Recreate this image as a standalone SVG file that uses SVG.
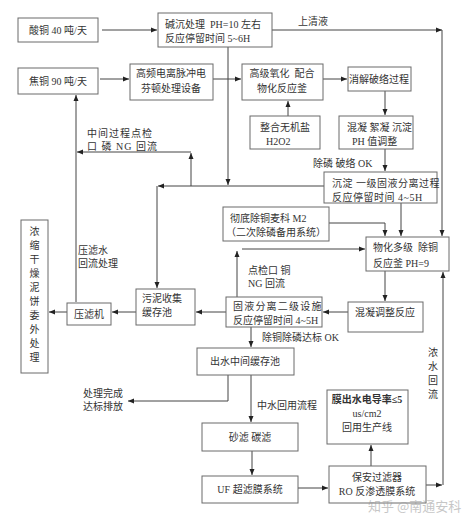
<svg xmlns="http://www.w3.org/2000/svg" width="474" height="514" viewBox="0 0 474 514">
<style>
.b{fill:#fff;stroke:#6a6a6a;stroke-width:1}
.t{font-family:"Liberation Serif","Noto Sans CJK SC",serif;font-size:10px;fill:#333}
.m{text-anchor:middle}
.c{stroke:#444;stroke-width:1;fill:none}
.w{font-family:"Noto Sans CJK SC",sans-serif;font-size:13px;fill:#999;opacity:0.55}
</style>
<defs>
<marker id="a" markerWidth="6" markerHeight="6" refX="6" refY="3" orient="auto" markerUnits="userSpaceOnUse"><path d="M0,0.5 L6,3 L0,5.5z" fill="#222"/></marker>
</defs>
<rect width="474" height="514" fill="#fff"/>
<g id="connectors">
<path class="c" d="M102,30 H157" marker-end="url(#a)"/>
<path class="c" d="M272,30 H442" marker-end="url(#a)"/>
<path class="c" d="M442,30 V236" marker-end="url(#a)"/>
<path class="c" d="M228,47 V185" marker-end="url(#a)"/>
<path class="c" d="M100,79 H129" marker-end="url(#a)"/>
<path class="c" d="M213,79 H241" marker-end="url(#a)"/>
<path class="c" d="M323,79 H347" marker-end="url(#a)"/>
<path class="c" d="M385,91 V115" marker-end="url(#a)"/>
<path class="c" d="M288,116 V101" marker-end="url(#a)"/>
<path class="c" d="M385,149 V171" marker-end="url(#a)"/>
<path class="c" d="M324,186 H158" marker-end="url(#a)"/>
<path class="c" d="M157,186 V288" marker-end="url(#a)"/>
<path class="c" d="M191,186 V153" marker-end="url(#a)"/>
<path class="c" d="M191,152 H77" marker-end="url(#a)"/>
<path class="c" d="M76,302 V95" marker-end="url(#a)"/>
<path class="c" d="M329,223 H385 V236" marker-end="url(#a)"/>
<path class="c" d="M401,203 V236" marker-end="url(#a)"/>
<path class="c" d="M242,249 H365" marker-end="url(#a)"/>
<path class="c" d="M237,297 V251" marker-end="url(#a)"/>
<path class="c" d="M385,271 V301" marker-end="url(#a)"/>
<path class="c" d="M348,312 H323" marker-end="url(#a)"/>
<path class="c" d="M226,312 H196" marker-end="url(#a)"/>
<path class="c" d="M136,312 H112" marker-end="url(#a)"/>
<path class="c" d="M67,312 H49" marker-end="url(#a)"/>
<path class="c" d="M251,327 V347" marker-end="url(#a)"/>
<path class="c" d="M228,375 V401 H128" marker-end="url(#a)"/>
<path class="c" d="M251,375 V422" marker-end="url(#a)"/>
<path class="c" d="M252,451 V475" marker-end="url(#a)"/>
<path class="c" d="M298,488 H328" marker-end="url(#a)"/>
<path class="c" d="M371,466 V445" marker-end="url(#a)"/>
<path class="c" d="M426,485 H442" marker-end="url(#a)"/>
<path class="c" d="M443,485 V272" marker-end="url(#a)"/>
</g>
<g id="labels">
<text class="t" x="298" y="25">上清液</text>
<text class="t" x="87" y="137" letter-spacing="1">中间过程点检</text>
<text class="t" x="87" y="150" letter-spacing="1">口 磷 NG 回流</text>
<text class="t" x="313" y="167">除磷 破络 OK</text>
<text class="t" x="78" y="254">压滤水</text>
<text class="t" x="78" y="267">回流处理</text>
<text class="t" x="248" y="274">点检口 铜</text>
<text class="t" x="248" y="287">NG 回流</text>
<text class="t" x="262" y="341">除铜除磷达标 OK</text>
<text class="t" x="83" y="397">处理完成</text>
<text class="t" x="83" y="410">达标排放</text>
<text class="t" x="257" y="409">中水回用流程</text>
<text class="t m" x="433" y="356">浓</text>
<text class="t m" x="433" y="370">水</text>
<text class="t m" x="433" y="384">回</text>
<text class="t m" x="433" y="398">流</text>
</g>
<g id="n1"><rect class="b" x="18" y="18" width="80" height="24"/><text class="t m" x="58" y="34">酸铜 40 吨/天</text></g>
<g id="n2"><rect class="b" x="158" y="13" width="114" height="34"/><text class="t" x="165" y="28" xml:space="preserve">碱沉处理  PH=10 左右</text><text class="t" x="165" y="42">反应停留时间 5~6H</text></g>
<g id="n3"><rect class="b" x="18" y="68" width="80" height="26"/><text class="t m" x="58" y="85">焦铜 90 吨/天</text></g>
<g id="n4"><rect class="b" x="130" y="64" width="83" height="36"/><text class="t m" x="171" y="77">高频电离脉冲电</text><text class="t m" x="171" y="92">芬顿处理设备</text></g>
<g id="n5"><rect class="b" x="242" y="64" width="81" height="36"/><text class="t m" x="282" y="77" xml:space="preserve">高级氧化  配合</text><text class="t m" x="282" y="92">物化反应釜</text></g>
<g id="n6"><rect class="b" x="348" y="67" width="63" height="24"/><text class="t m" x="379" y="83">消解破络过程</text></g>
<g id="n7"><rect class="b" x="250" y="116" width="70" height="33"/><text class="t m" x="285" y="131">整合无机盐</text><text class="t" x="266" y="145">H2O2</text></g>
<g id="n8"><rect class="b" x="339" y="116" width="74" height="33"/><text class="t" x="347" y="131">混凝 絮凝 沉淀</text><text class="t" x="352" y="145">PH 值调整</text></g>
<g id="n9"><rect class="b" x="324" y="172" width="113" height="31"/><text class="t" x="332" y="187" letter-spacing="0.5">沉淀 一级固液分离过程</text><text class="t" x="332" y="201" letter-spacing="0.5">反应停留时间 4~5H</text></g>
<g id="n10"><rect class="b" x="223" y="207" width="106" height="34"/><text class="t" x="230" y="222">彻底除铜麦科 M2</text><text class="t" x="226" y="236">（二次除磷备用系统）</text></g>
<g id="n11"><rect class="b" x="366" y="237" width="83" height="34"/><text class="t" x="373" y="251" xml:space="preserve">物化多级  除铜</text><text class="t" x="373" y="267">反应釜 PH=9</text></g>
<g id="n12"><rect class="b" x="348" y="302" width="75" height="30"/><text class="t m" x="385" y="316">混凝调整反应</text></g>
<g id="n13"><rect class="b" x="226" y="297" width="96" height="30"/><text class="t" x="233" y="310" letter-spacing="1.2">固液分离二级设施</text><text class="t" x="233" y="324">反应停留时间 4~5H</text></g>
<g id="n14"><rect class="b" x="136" y="289" width="59" height="36"/><text class="t" x="142" y="302">污泥收集</text><text class="t" x="142" y="316">缓存池</text></g>
<g id="n15"><rect class="b" x="67" y="303" width="44" height="22"/><text class="t m" x="89" y="318">压滤机</text></g>
<g id="n16"><rect class="b" x="21" y="220" width="27" height="153"/>
<text class="t m" x="34.5" y="235">浓</text><text class="t m" x="34.5" y="249">缩</text><text class="t m" x="34.5" y="263">干</text><text class="t m" x="34.5" y="277">燥</text><text class="t m" x="34.5" y="291">泥</text><text class="t m" x="34.5" y="305">饼</text><text class="t m" x="34.5" y="319">委</text><text class="t m" x="34.5" y="333">外</text><text class="t m" x="34.5" y="347">处</text><text class="t m" x="34.5" y="361">理</text></g>
<g id="n17"><rect class="b" x="197" y="348" width="97" height="27"/><text class="t m" x="245" y="365">出水中间缓存池</text></g>
<g id="n18"><rect class="b" x="202" y="423" width="96" height="28"/><text class="t m" x="250" y="441">砂滤 碳滤</text></g>
<g id="n19"><rect class="b" x="202" y="476" width="96" height="27"/><text class="t m" x="250" y="493">UF 超滤膜系统</text></g>
<g id="n20"><rect class="b" x="329" y="466" width="97" height="37"/><text class="t m" x="377" y="481">保安过滤器</text><text class="t m" x="377" y="495">RO 反渗透膜系统</text></g>
<g id="n21"><rect class="b" x="327" y="390" width="81" height="54"/><text class="t m" x="367" y="403" font-weight="bold">膜出水电导率≤5</text><text class="t m" x="367" y="417">us/cm2</text><text class="t m" x="367" y="431">回用生产线</text></g>
<text class="w" x="368" y="511">知乎 @南通安科</text>
</svg>
